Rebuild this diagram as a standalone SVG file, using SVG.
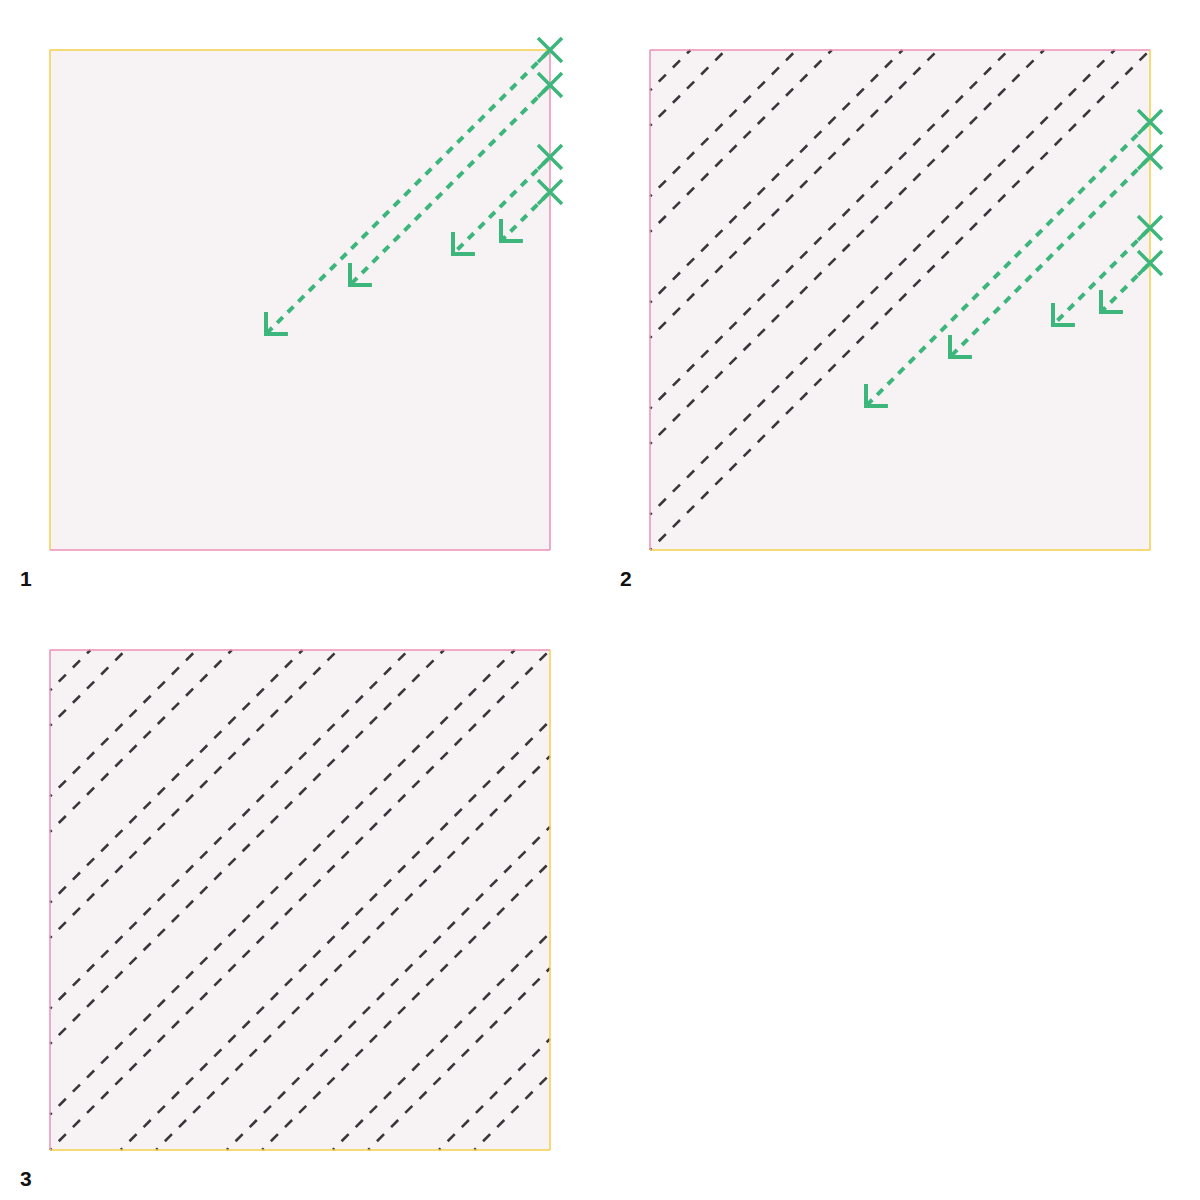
<svg xmlns="http://www.w3.org/2000/svg" width="1200" height="1200" viewBox="0 0 1200 1200">
<style>
.bg{fill:#f7f3f4;stroke:none}
.pk{stroke:#ef8fb8;stroke-width:1.5;fill:none}
.yl{stroke:#f6cf4a;stroke-width:1.5;fill:none}
.hatch{stroke:#3a363b;stroke-width:2.6;fill:none;stroke-dasharray:10 10;stroke-dashoffset:7.6}
.arrow{stroke:#3db67c;stroke-width:4;fill:none;stroke-dasharray:8 7;marker-end:url(#lhead)}
.xm{stroke:#3db67c;stroke-width:3.5;fill:none}
.lbl{font-family:"Liberation Sans",Arial,sans-serif;font-weight:bold;font-size:21px;fill:#111}
</style>
<defs>
<marker id="lhead" markerUnits="userSpaceOnUse" markerWidth="40" markerHeight="40" viewBox="-20 -20 40 40" refX="0" refY="0" orient="auto">
<path d="M -15.5 -15.5 L 0 0 L -15.5 15.5" fill="none" stroke="#3db67c" stroke-width="4" stroke-linejoin="miter"/>
</marker>
<path id="xmark" class="xm" d="M -12 -12 L 12 12 M -12 12 L 12 -12"/>
</defs>
<rect width="1200" height="1200" fill="#ffffff"/>

<g id="panel1">
<rect class="bg" x="50" y="50" width="500" height="500"/>
<line class="yl" x1="50" y1="50" x2="550" y2="50"/>
<line class="yl" x1="50" y1="50" x2="50" y2="550"/>
<line class="pk" x1="550" y1="50" x2="550" y2="550"/>
<line class="pk" x1="50" y1="550" x2="550" y2="550"/>
<text class="lbl" x="20" y="586">1</text>
</g>

<g id="panel2">
<rect class="bg" x="650" y="50" width="500" height="500"/>
<g id="hatch2">
<line class="hatch" x1="650" y1="90.4" x2="690.4" y2="50"/>
<line class="hatch" x1="650" y1="125.7" x2="725.7" y2="50"/>
<line class="hatch" x1="650" y1="196.4" x2="796.4" y2="50"/>
<line class="hatch" x1="650" y1="231.8" x2="831.8" y2="50"/>
<line class="hatch" x1="650" y1="302.5" x2="902.5" y2="50"/>
<line class="hatch" x1="650" y1="337.9" x2="937.9" y2="50"/>
<line class="hatch" x1="650" y1="408.6" x2="1008.6" y2="50"/>
<line class="hatch" x1="650" y1="443.9" x2="1043.9" y2="50"/>
<line class="hatch" x1="650" y1="514.6" x2="1114.6" y2="50"/>
<line class="hatch" x1="650" y1="550" x2="1150" y2="50"/>
</g>
<line class="pk" x1="650" y1="50" x2="1150" y2="50"/>
<line class="pk" x1="650" y1="50" x2="650" y2="550"/>
<line class="yl" x1="1150" y1="50" x2="1150" y2="550"/>
<line class="yl" x1="650" y1="550" x2="1150" y2="550"/>
<text class="lbl" x="620" y="586">2</text>
</g>

<g id="panel3">
<rect class="bg" x="50" y="650" width="500" height="500"/>
<g id="hatch3">
<line class="hatch" x1="50" y1="690.4" x2="90.4" y2="650"/>
<line class="hatch" x1="50" y1="725.7" x2="125.7" y2="650"/>
<line class="hatch" x1="50" y1="796.4" x2="196.4" y2="650"/>
<line class="hatch" x1="50" y1="831.8" x2="231.8" y2="650"/>
<line class="hatch" x1="50" y1="902.5" x2="302.5" y2="650"/>
<line class="hatch" x1="50" y1="937.9" x2="337.9" y2="650"/>
<line class="hatch" x1="50" y1="1008.6" x2="408.6" y2="650"/>
<line class="hatch" x1="50" y1="1043.9" x2="443.9" y2="650"/>
<line class="hatch" x1="50" y1="1114.6" x2="514.6" y2="650"/>
<line class="hatch" x1="50" y1="1150" x2="550" y2="650"/>
<line class="hatch" x1="120.7" y1="1150" x2="550" y2="720.7"/>
<line class="hatch" x1="156.1" y1="1150" x2="550" y2="756.1"/>
<line class="hatch" x1="226.8" y1="1150" x2="550" y2="826.8"/>
<line class="hatch" x1="262.1" y1="1150" x2="550" y2="862.1"/>
<line class="hatch" x1="332.8" y1="1150" x2="550" y2="932.8"/>
<line class="hatch" x1="368.2" y1="1150" x2="550" y2="968.2"/>
<line class="hatch" x1="438.9" y1="1150" x2="550" y2="1038.9"/>
<line class="hatch" x1="474.3" y1="1150" x2="550" y2="1074.3"/>
</g>
<line class="pk" x1="50" y1="650" x2="550" y2="650"/>
<line class="pk" x1="50" y1="650" x2="50" y2="1150"/>
<line class="yl" x1="550" y1="650" x2="550" y2="1150"/>
<line class="yl" x1="50" y1="1150" x2="550" y2="1150"/>
<text class="lbl" x="20" y="1186">3</text>
</g>

<g id="connectors">
<line class="arrow" x1="548" y1="52" x2="266" y2="334"/>
<line class="arrow" x1="548" y1="87" x2="350" y2="285"/>
<line class="arrow" x1="548" y1="159" x2="453" y2="254"/>
<line class="arrow" x1="548" y1="194" x2="501" y2="241"/>
<line class="arrow" x1="1148" y1="124" x2="866" y2="406"/>
<line class="arrow" x1="1148" y1="159" x2="950" y2="357"/>
<line class="arrow" x1="1148" y1="230" x2="1053" y2="325"/>
<line class="arrow" x1="1148" y1="265" x2="1101" y2="312"/>
</g>

<g id="marks">
<use href="#xmark" x="550" y="50"/>
<use href="#xmark" x="550" y="85"/>
<use href="#xmark" x="550" y="157"/>
<use href="#xmark" x="550" y="192"/>
<use href="#xmark" x="1150" y="122"/>
<use href="#xmark" x="1150" y="157"/>
<use href="#xmark" x="1150" y="228"/>
<use href="#xmark" x="1150" y="263"/>
</g>
</svg>
